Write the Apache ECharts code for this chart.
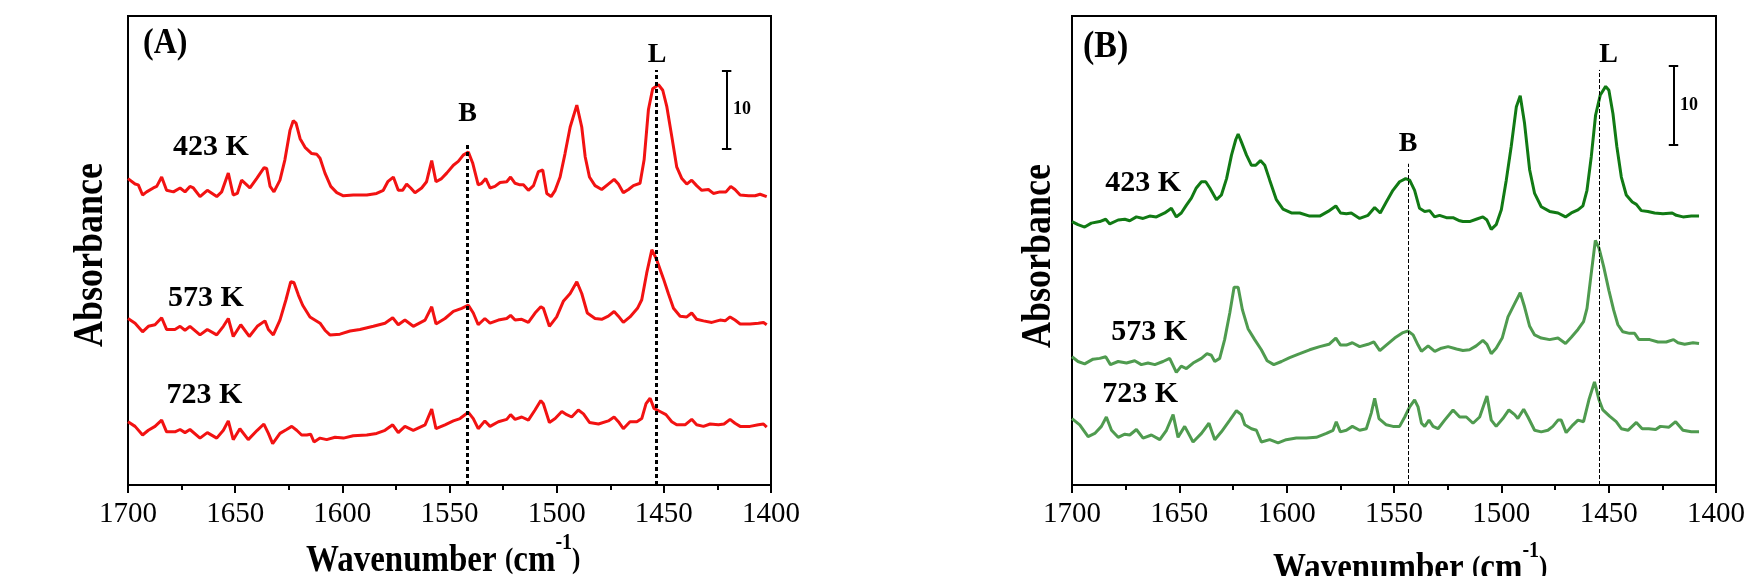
<!DOCTYPE html>
<html>
<head>
<meta charset="utf-8">
<style>
  html, body { margin: 0; padding: 0; background: #fff; }
  #chart { width: 1757px; height: 576px; }
</style>
<script src="https://cdn.jsdelivr.net/npm/echarts@6/dist/echarts.min.js"></script>
</head>
<body>
<div id="chart"></div>
<script>
// ---- spectra: [wavenumber (cm-1), absorbance (offset, a.u.)] ----
const specA423 = [[1700,39.2],[1696.7,38.5],[1695.2,38.4],[1693.2,37.1],[1691.3,37.5],[1688.2,38.0],[1686.6,38.2],[1684.3,39.4],[1682.0,37.7],[1678.8,37.5],[1675.7,38.0],[1673.4,37.5],[1671.1,38.2],[1669.5,38.0],[1666.4,36.9],[1663.0,37.7],[1658.6,36.9],[1656.3,37.5],[1653.2,39.9],[1650.9,37.1],[1649.0,37.3],[1647.0,39.0],[1644.6,38.4],[1643.1,38.0],[1640.0,39.2],[1636.5,40.6],[1635.3,40.5],[1633.7,38.2],[1631.9,37.5],[1629.1,39.0],[1626.8,41.6],[1624.4,45.4],[1622.9,46.6],[1621.6,46.3],[1619.7,44.3],[1617.4,43.2],[1614.3,42.4],[1611.9,42.3],[1610.4,41.8],[1608.1,39.9],[1605.4,38.2],[1602.6,37.4],[1599.5,37.0],[1594.9,37.1],[1588.6,37.1],[1584.0,37.3],[1580.9,37.7],[1578.8,38.8],[1576.2,39.4],[1573.9,37.7],[1571.9,37.7],[1570.0,38.5],[1568.1,38.0],[1566.1,37.4],[1563.0,38.0],[1560.7,38.8],[1558.3,41.5],[1556.3,38.8],[1553.7,39.2],[1551.3,39.9],[1548.2,40.9],[1545.9,41.4],[1543.6,42.2],[1541.2,42.6],[1539.2,41.2],[1536.6,38.4],[1535.0,38.6],[1533.1,39.2],[1531.1,38.0],[1528.8,38.2],[1526.4,38.7],[1523.3,38.8],[1521.5,39.4],[1519.4,38.6],[1517.1,38.4],[1515.5,38.4],[1513.2,37.7],[1510.8,38.3],[1508.5,40.1],[1506.5,40.3],[1504.6,37.3],[1502.6,36.9],[1500.7,37.7],[1498.4,39.4],[1496.1,42.4],[1493.7,45.8],[1490.6,48.6],[1488.3,45.8],[1486.7,42.0],[1484.7,39.4],[1482.1,38.3],[1479.0,37.8],[1475.9,38.5],[1473.2,39.1],[1471.2,38.5],[1468.9,37.4],[1466.5,37.8],[1464.2,38.3],[1461.1,38.6],[1459.2,41.6],[1457.2,48.0],[1455.2,50.7],[1452.5,51.2],[1450.5,50.5],[1448.6,48.4],[1446.3,44.6],[1444.0,40.7],[1441.6,39.2],[1439.3,38.5],[1437.0,39.0],[1434.7,38.3],[1432.3,37.7],[1429.2,37.8],[1426.9,37.3],[1423.8,37.5],[1421.0,37.5],[1418.8,38.2],[1416.8,37.8],[1414.4,37.1],[1410.5,37.0],[1407.4,37.0],[1405.1,37.2],[1402.0,36.9]];

const specA573 = [[1700,21.3],[1696.7,20.7],[1693.2,19.6],[1690.5,20.3],[1687.4,20.5],[1684.3,21.4],[1682.0,19.9],[1678.1,19.9],[1675.7,20.3],[1673.4,19.8],[1671.1,20.3],[1666.4,19.2],[1663.0,19.9],[1658.6,19.2],[1655.5,20.3],[1653.2,21.3],[1650.9,19.0],[1647.4,20.5],[1643.4,19.0],[1639.7,20.3],[1636.1,21.0],[1634.5,19.9],[1632.2,19.2],[1629.1,21.1],[1626.3,23.7],[1624.1,26.0],[1622.6,25.9],[1620.5,24.3],[1618.5,23.0],[1615.1,21.5],[1610.4,20.7],[1608.1,19.8],[1605.8,19.2],[1601.1,19.3],[1596.4,19.7],[1591.8,19.9],[1585.5,20.3],[1580.1,20.7],[1576.5,21.4],[1573.9,20.5],[1570.8,21.1],[1566.9,20.3],[1561.4,21.1],[1558.3,22.8],[1556.3,20.6],[1552.1,21.3],[1548.2,22.2],[1544.3,22.6],[1541.2,23.0],[1538.9,22.0],[1536.6,20.5],[1533.5,21.3],[1531.1,20.7],[1527.2,21.1],[1523.3,21.3],[1521.5,21.7],[1519.4,21.1],[1516.3,21.2],[1513.2,20.8],[1510.1,22.0],[1507.4,22.8],[1506.2,22.6],[1503.4,20.3],[1500.0,21.5],[1496.9,23.5],[1493.7,24.5],[1490.6,26.0],[1488.3,24.5],[1485.7,22.0],[1482.1,21.3],[1479.0,21.2],[1475.9,21.6],[1473.2,22.2],[1471.2,21.6],[1468.9,20.8],[1465.8,21.5],[1462.3,22.6],[1460.3,23.7],[1458.0,27.1],[1455.6,30.1],[1453.3,28.8],[1450.2,26.4],[1447.9,24.5],[1445.5,22.6],[1442.4,21.6],[1439.3,21.5],[1437.0,22.0],[1434.7,21.2],[1431.5,21.0],[1427.6,20.8],[1423.8,21.1],[1421.4,21.0],[1419.1,21.5],[1416.8,21.1],[1414.4,20.6],[1409.8,20.6],[1405.9,20.7],[1403.5,20.8],[1402.0,20.5]];

const specA723 = [[1700,8.1],[1696.7,7.5],[1693.2,6.4],[1690.5,7.0],[1687.4,7.5],[1684.3,8.3],[1682.0,6.8],[1678.1,6.8],[1675.7,7.1],[1673.4,6.7],[1671.1,7.1],[1666.4,6.0],[1663.0,6.7],[1658.6,6.0],[1655.5,7.0],[1653.2,8.2],[1650.9,5.8],[1647.8,7.2],[1643.9,5.8],[1639.7,7.0],[1636.6,7.8],[1634.5,6.6],[1632.5,5.3],[1629.1,6.6],[1626.0,7.1],[1623.6,7.5],[1621.3,7.0],[1619.0,6.4],[1616.6,6.4],[1614.8,6.5],[1613.2,5.5],[1610.4,6.0],[1607.3,5.8],[1603.4,6.1],[1599.5,6.0],[1594.9,6.3],[1588.6,6.4],[1584.0,6.6],[1580.1,7.0],[1576.5,7.7],[1573.9,6.7],[1570.8,7.5],[1566.9,7.0],[1561.4,7.7],[1558.3,9.7],[1556.3,7.2],[1552.1,7.7],[1548.2,8.2],[1545.1,8.5],[1541.2,9.3],[1538.9,8.5],[1536.6,7.2],[1533.5,8.2],[1531.1,7.5],[1527.2,8.1],[1523.3,8.4],[1521.5,9.0],[1519.4,8.4],[1516.3,8.7],[1513.2,8.3],[1510.1,9.6],[1507.4,10.8],[1506.2,10.4],[1503.4,8.0],[1500.7,8.5],[1497.6,9.4],[1495.3,9.0],[1493.0,8.7],[1489.9,9.6],[1487.5,9.1],[1484.7,8.0],[1480.5,7.8],[1475.9,8.2],[1473.2,8.7],[1471.2,8.1],[1468.9,7.2],[1465.8,8.1],[1462.6,8.1],[1460.3,8.5],[1458.3,10.4],[1456.4,11.1],[1454.6,9.8],[1451.8,9.4],[1449.0,9.0],[1446.3,8.1],[1444.0,7.7],[1440.1,7.7],[1437.0,8.4],[1434.7,7.7],[1431.5,7.5],[1428.4,7.8],[1424.5,7.7],[1421.9,7.8],[1419.1,8.4],[1416.8,7.9],[1414.4,7.5],[1409.8,7.5],[1405.9,7.7],[1403.5,7.8],[1402.0,7.4]];

const specB423 = [[1700,33.7],[1697.2,33.3],[1694.1,33.0],[1691.0,33.5],[1687.1,33.7],[1684.3,34.0],[1682.4,33.4],[1678.5,33.9],[1675.4,34.0],[1673.1,33.8],[1670.0,34.3],[1666.9,34.1],[1663.8,34.4],[1660.7,34.3],[1656.8,34.8],[1653.7,35.4],[1651.4,34.3],[1649.1,34.8],[1646.7,35.8],[1644.4,36.7],[1642.1,38.0],[1639.7,38.8],[1637.7,38.8],[1635.8,38.0],[1632.7,36.5],[1630.4,37.1],[1628.0,39.2],[1625.7,42.2],[1623.7,44.2],[1622.6,44.9],[1621.1,43.9],[1618.7,42.2],[1616.4,40.9],[1614.4,40.9],[1612.2,41.5],[1610.2,40.9],[1607.9,39.0],[1604.8,36.5],[1601.7,35.3],[1597.8,34.8],[1593.9,34.8],[1589.3,34.4],[1584.6,34.4],[1580.7,35.0],[1577.1,35.7],[1574.9,34.8],[1572.2,34.7],[1569.9,34.8],[1566.0,34.1],[1562.1,34.5],[1559.0,35.5],[1556.4,34.8],[1553.6,36.2],[1550.5,37.7],[1547.4,38.8],[1544.6,39.2],[1542.7,39.0],[1540.4,37.7],[1538.1,35.4],[1535.7,35.0],[1533.4,35.1],[1531.1,34.3],[1528.8,34.5],[1525.6,34.2],[1522.5,34.2],[1519.4,33.8],[1517.9,33.7],[1514.8,33.7],[1511.7,34.0],[1508.6,34.3],[1506.7,33.9],[1504.7,32.7],[1502.4,33.3],[1500.0,35.2],[1497.7,39.0],[1495.4,43.3],[1493.0,48.4],[1491.2,49.8],[1489.2,46.3],[1486.8,40.3],[1484.5,37.3],[1481.4,35.6],[1477.5,35.0],[1473.6,34.8],[1470.1,34.3],[1467.4,34.8],[1464.3,35.2],[1462.0,35.7],[1460.1,37.7],[1458.1,42.0],[1456.1,47.3],[1453.9,49.9],[1451.4,51.0],[1449.9,50.5],[1448.0,47.5],[1446.2,43.3],[1444.1,39.4],[1441.8,37.1],[1439.0,36.2],[1437.1,35.9],[1434.8,35.1],[1431.7,35.0],[1428.6,34.8],[1424.7,34.7],[1420.4,34.8],[1418.5,34.5],[1415.4,34.3],[1411.5,34.4],[1407.9,34.4]];

const specB573 = [[1700,16.4],[1697.2,15.8],[1694.1,15.5],[1690.2,16.1],[1687.1,16.2],[1684.3,16.4],[1682.1,15.4],[1678.5,15.8],[1674.6,15.6],[1670.8,15.9],[1667.7,15.4],[1664.6,15.6],[1661.4,15.4],[1657.6,15.8],[1654.5,16.2],[1651.4,14.4],[1649.1,15.2],[1646.7,14.9],[1643.6,15.6],[1639.7,16.2],[1637.1,16.8],[1635.1,16.6],[1633.5,15.8],[1631.2,16.2],[1628.9,18.6],[1626.5,22.0],[1624.5,25.3],[1622.6,25.3],[1620.6,22.4],[1618.0,20.0],[1614.9,18.6],[1611.8,17.3],[1609.1,15.9],[1606.0,15.4],[1602.4,15.8],[1598.6,16.3],[1593.9,16.8],[1589.3,17.3],[1584.6,17.7],[1580.3,18.0],[1577.1,18.8],[1574.9,17.9],[1572.2,17.9],[1569.4,18.2],[1566.0,17.7],[1562.1,18.0],[1559.4,18.3],[1556.6,17.2],[1553.6,17.9],[1549.7,18.8],[1545.8,19.5],[1543.5,19.7],[1541.1,19.2],[1538.8,17.9],[1537.2,17.1],[1534.1,17.8],[1531.0,17.1],[1527.9,17.5],[1524.8,17.7],[1520.9,17.4],[1517.9,17.2],[1514.8,17.3],[1511.7,17.8],[1508.6,18.5],[1506.7,18.0],[1504.7,16.8],[1502.4,17.5],[1499.6,18.8],[1496.9,21.5],[1493.8,23.2],[1491.2,24.6],[1489.2,22.8],[1486.8,20.3],[1484.5,19.2],[1481.4,18.8],[1477.5,18.6],[1473.6,18.8],[1470.1,18.1],[1467.4,18.9],[1464.3,19.9],[1461.7,20.9],[1460.1,22.6],[1458.1,27.1],[1456.2,31.3],[1454.5,30.3],[1452.3,27.9],[1449.9,24.9],[1447.7,22.4],[1445.7,20.5],[1443.4,19.6],[1440.3,19.4],[1437.9,19.4],[1435.9,18.6],[1433.3,18.6],[1430.9,18.6],[1427.0,18.3],[1423.2,18.3],[1419.8,18.6],[1417.7,18.2],[1414.6,18.0],[1410.7,18.2],[1407.9,18.1]];

const specB723 = [[1700,8.5],[1696.4,7.7],[1692.5,6.2],[1689.4,6.6],[1686.3,7.5],[1684.0,8.7],[1681.6,7.0],[1678.5,6.1],[1675.4,6.5],[1673.1,6.4],[1670.0,7.1],[1666.9,6.0],[1663.0,6.4],[1659.1,5.8],[1656.0,7.0],[1652.9,9.0],[1650.6,6.1],[1647.5,7.5],[1643.6,5.5],[1639.7,6.6],[1636.2,7.9],[1633.5,5.8],[1630.4,6.8],[1626.5,8.3],[1623.4,9.5],[1621.1,9.0],[1619.5,7.7],[1616.4,7.2],[1614.1,7.0],[1611.8,5.5],[1607.9,5.8],[1604.0,5.4],[1600.2,5.8],[1595.5,6.0],[1590.9,6.0],[1586.2,6.1],[1581.5,6.6],[1578.4,7.0],[1576.9,8.1],[1575.0,6.8],[1572.2,7.0],[1569.4,7.5],[1566.0,7.0],[1562.9,7.2],[1560.6,9.2],[1559.0,11.1],[1557.0,8.5],[1553.6,7.7],[1550.5,7.5],[1547.4,7.5],[1545.0,8.7],[1542.7,10.0],[1540.4,10.9],[1538.8,10.0],[1537.2,7.9],[1535.7,7.5],[1533.7,8.3],[1531.8,7.5],[1529.5,7.2],[1526.4,8.3],[1522.5,9.6],[1521.8,9.8],[1519.4,8.7],[1516.3,8.7],[1513.2,7.9],[1510.1,8.7],[1506.7,11.4],[1504.7,8.3],[1502.4,7.5],[1499.3,8.5],[1496.5,9.6],[1493.8,9.0],[1492.3,8.5],[1489.6,9.7],[1487.6,8.7],[1484.5,7.0],[1481.4,6.8],[1478.3,7.0],[1476.0,7.5],[1473.6,8.3],[1472.1,8.3],[1469.8,6.7],[1466.6,7.7],[1464.3,8.3],[1461.7,8.1],[1459.2,10.9],[1456.6,13.2],[1454.5,10.9],[1452.7,9.6],[1449.6,8.8],[1446.5,8.1],[1444.1,7.2],[1441.0,7.0],[1437.1,8.0],[1434.4,7.2],[1431.3,7.2],[1428.1,7.1],[1425.9,7.5],[1421.9,7.4],[1418.8,8.1],[1415.4,7.0],[1411.5,6.8],[1407.9,6.8]];

// band positions marked in each panel (cm-1)
const bandsA = { B: 1541.7, L: 1453.6 };
const bandsB = { B: 1543.5, L: 1454.5 };
const xTicks = [1700, 1650, 1600, 1550, 1500, 1450, 1400];
const tempNames = ['423 K', '573 K', '723 K'];

const serif = "'Liberation Serif', 'Times New Roman', serif";
const chart = echarts.init(document.getElementById('chart'));

function xAxisFor(gridIndex) {
    return {
        type: 'value', gridIndex: gridIndex,
        min: xTicks[xTicks.length - 1], max: xTicks[0], interval: 50, inverse: true,
        axisLine: { lineStyle: { color: '#000', width: 2 } },
        axisTick: { length: 8, lineStyle: { color: '#000', width: 2 } },
        minorTick: { show: true, splitNumber: 2, length: 5, lineStyle: { color: '#000', width: 2 } },
        splitLine: { show: false },
        axisLabel: { fontFamily: serif, fontSize: 29, color: '#000', margin: 15, formatter: v => String(v) }
    };
}

// text label placed on a point of the data space
function tag(name, x, y, size) {
    return { name: name, coord: [x, y], label: { fontSize: size || 30 } };
}
const markPointBase = {
    symbol: 'circle', symbolSize: 1, silent: true, animation: false,
    itemStyle: { color: 'rgba(0,0,0,0)' },
    label: { show: true, position: 'inside', color: '#000', fontFamily: serif, fontWeight: 'bold', formatter: p => p.name }
};

// panel builder: dashed band lines, scale bar and labels
function panel(gi, specs, colors, bands, dashStyle, labelPos, bandTop, bar) {
    const s = specs.map((d, i) => ({
        type: 'line', xAxisIndex: gi, yAxisIndex: gi, data: d,
        symbol: 'none', smooth: false, animation: false,
        lineStyle: { color: colors[i], width: 3 }, z: 3
    }));
    s[0].markLine = {
        silent: true, symbol: ['none', 'none'], animation: false,
        label: { show: false }, lineStyle: dashStyle,
        data: [
            [{ coord: [bands.B, 0] }, { coord: [bands.B, bandTop.B] }],
            [{ coord: [bands.L, 0] }, { coord: [bands.L, bandTop.L] }]
        ]
    };
    s[0].markPoint = Object.assign({}, markPointBase, {
        data: [tag(tempNames[0], ...labelPos[0]), tag('B', ...labelPos[3], 28), tag('L', ...labelPos[4], 28)]
    });
    s[1].markLine = {
        silent: true, symbol: ['none', 'none'], animation: false,
        label: { show: false }, lineStyle: { color: '#000', width: 2, type: 'solid' },
        data: [
            [{ coord: [bar.x, bar.y0] }, { coord: [bar.x, bar.y1] }],
            [{ coord: [bar.x + 2.2, bar.y0] }, { coord: [bar.x - 2.2, bar.y0] }],
            [{ coord: [bar.x + 2.2, bar.y1] }, { coord: [bar.x - 2.2, bar.y1] }]
        ]
    };
    s[1].markPoint = Object.assign({}, markPointBase, {
        data: [tag(tempNames[1], ...labelPos[1]), tag('10', bar.x - 7.2, (bar.y0 + bar.y1) / 2, 18)]
    });
    s[2].markPoint = Object.assign({}, markPointBase, {
        data: [tag(tempNames[2], ...labelPos[2])]
    });
    return s;
}

const titleRich = {
    a: { fontFamily: serif, fontWeight: 'bold', fontSize: 33, lineHeight: 52, fill: '#000' },
    p: { fontFamily: serif, fontWeight: 'bold', fontSize: 25, lineHeight: 52, fill: '#000' },
    s: { fontFamily: serif, fontWeight: 'bold', fontSize: 20, lineHeight: 20, verticalAlign: 'top', fill: '#000' }
};
function xTitle(x, y) {
    return {
        type: 'text', x: x, y: y, scaleY: 1.15, silent: true,
        style: { text: '{a|Wavenumber }{p|(}{a|cm}{s|-1}{p|)}', rich: titleRich, align: 'left', verticalAlign: 'middle' }
    };
}
function yTitle(x, y) {
    return {
        type: 'text', x: x, y: y, rotation: Math.PI / 2, scaleY: 1.2, silent: true,
        style: { text: 'Absorbance', fontFamily: serif, fontWeight: 'bold', fontSize: 36, fill: '#000', align: 'center', verticalAlign: 'middle' }
    };
}
function panelTag(text, x, y, size) {
    return {
        type: 'text', x: x, y: y, silent: true, scaleY: 1.1,
        style: { text: text, fontFamily: serif, fontWeight: 'bold', fontSize: size, fill: '#000', align: 'left', verticalAlign: 'middle' }
    };
}

const option = {
    backgroundColor: '#fff',
    animation: false,
    grid: [
        { left: 128, top: 16, width: 643, height: 469, show: true, borderColor: '#000', borderWidth: 2 },
        { left: 1072, top: 16, width: 644, height: 469, show: true, borderColor: '#000', borderWidth: 2 }
    ],
    xAxis: [xAxisFor(0), xAxisFor(1)],
    yAxis: [
        { type: 'value', gridIndex: 0, min: 0, max: 60, show: false },
        { type: 'value', gridIndex: 1, min: 0, max: 60, show: false }
    ],
    series: [
        ...panel(0, [specA423, specA573, specA723], ['#f21212', '#f21212', '#f21212'], bandsA,
            { color: '#000', width: 3, type: [4, 3] },
            [[1661.3, 43.2], [1663.6, 23.9], [1664.3, 11.5], [1541.6, 47.5], [1453.2, 55.1]],
            { B: 43.8, L: 53.1 }, { x: 1420.7, y0: 43.0, y1: 53.0 }),
        ...panel(1, [specB423, specB573, specB723], ['#117a14', '#4f9b4f', '#4f9b4f'], bandsB,
            { color: '#000', width: 1, type: [4, 2] },
            [[1666.8, 38.6], [1664.0, 19.6], [1668.2, 11.6], [1543.4, 43.7], [1450.0, 55.1]],
            { B: 41.1, L: 53.1 }, { x: 1419.8, y0: 43.5, y1: 53.6 })
    ],
    graphic: [
        panelTag('(A)', 143, 44, 32),
        panelTag('(B)', 1083, 47, 34),
        xTitle(306, 561),
        xTitle(1273, 569),
        yTitle(91, 255),
        yTitle(1039, 256)
    ]
};

chart.setOption(option);
</script>
</body>
</html>
